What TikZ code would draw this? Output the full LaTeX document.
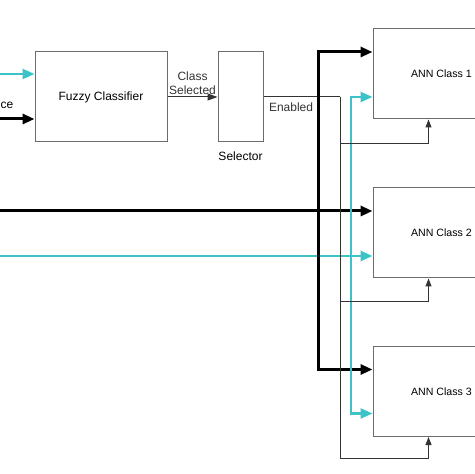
\documentclass[tikz,border=0pt]{standalone}
\usepackage{fontspec}
\setmainfont{Liberation Sans}
\usetikzlibrary{positioning,arrows.meta,calc}
\definecolor{annCyan}{RGB}{60,195,200}
\begin{document}
\begin{tikzpicture}[x=0.5pt,y=-0.5pt,font=\fontsize{6}{7}\selectfont]
  \tikzstyle{bx}=[rectangle,draw=gray!85!black,line width=0.5pt,minimum height=45pt,inner sep=1pt]
  \tikzstyle{ann}=[bx,minimum width=68.5pt,font=\fontsize{5.3}{6}\selectfont]
  \tikzstyle{bus}=[line width=1.5pt,-{Triangle[length=6pt,width=5pt]}]
  \tikzstyle{cy}=[annCyan,line width=1.2pt,-{Triangle[length=6pt,width=5pt]}]
  \tikzstyle{thn}=[gray!40!black,line width=0.5pt]
  \useasboundingbox (0,0) rectangle (474,474);
  \node[bx,minimum width=66pt] (fuzzy) at (101,97) {Fuzzy Classifier};
  \node[bx,minimum width=22.5pt] (sel) at (240.5,97) {};
  \node[ann] (ann1) at (441.5,74) {ANN Class 1};
  \node[ann] (ann2) at (441.5,233) {ANN Class 2};
  \node[ann] (ann3) at (441.5,391.5) {ANN Class 3};
  \node[below=1pt of sel] (sellbl) {Selector};
  \coordinate (in1) at (0,74);
  \coordinate (in2) at (0,119);
  \coordinate (in3) at (0,211);
  \coordinate (in4) at (0,256);
  \coordinate (kb) at (318,211);
  \coordinate (kc) at (351,256);
  \coordinate (en) at (340,97);
  \node[inner sep=0pt] (srclbl) at (7,105) {ce};
  % inputs
  \draw[cy] (in1) -- (in1 -| fuzzy.west);
  \draw[bus] (in2) -- (in2 -| fuzzy.west);
  \draw[bus] (in3) -- (in3 -| ann2.west);
  \draw[cy] (in4) -- (in4 -| ann2.west);
  \draw[thn,-{Triangle[length=5pt,width=3.5pt]}] (fuzzy.east) -- node[above,align=center,inner sep=1pt] {Class\\Selected} (sel.west);
  \draw[thn] (sel.east) -- node[pos=0,below right,inner sep=2.5pt] {Enabled} (en);
  % buses
  \draw[bus] (kb) |- ([yshift=11pt]ann1.west);
  \draw[bus] (kb) |- ([yshift=11pt]ann3.west);
  \draw[cy] (kc) |- ([yshift=-11.5pt]ann1.west);
  \draw[cy] (kc) |- ([yshift=-11pt]ann3.west);
  % enable lines
  \draw[thn,-{Triangle[length=4pt,width=3pt]}] (en) |- ([xshift=28pt,yshift=-12pt]ann1.south west) -- ([xshift=28pt]ann1.south west);
  \draw[thn,-{Triangle[length=4pt,width=3pt]}] (en) |- ([xshift=28pt,yshift=-11.5pt]ann2.south west) -- ([xshift=28pt]ann2.south west);
  \draw[thn,-{Triangle[length=4pt,width=3pt]}] (en) |- ([xshift=28pt,yshift=-10.5pt]ann3.south west) -- ([xshift=28pt]ann3.south west);
\end{tikzpicture}
\end{document}
